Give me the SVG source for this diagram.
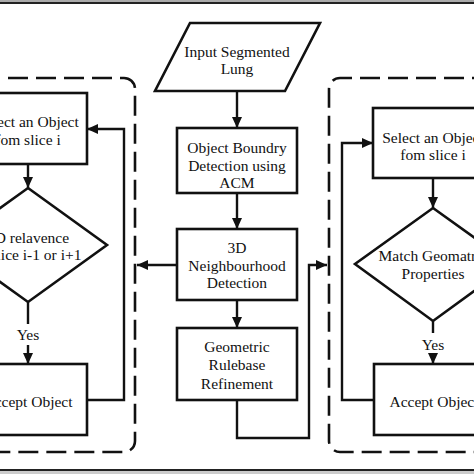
<svg xmlns="http://www.w3.org/2000/svg" width="474" height="474" viewBox="0 0 474 474">
<defs>
<marker id="ah" markerUnits="userSpaceOnUse" markerWidth="11" markerHeight="10" refX="11" refY="5" orient="auto">
<path d="M0,0 L11,5 L0,10 z" fill="#111"/>
</marker>
<style>
.b{fill:#fff;stroke:#111;stroke-width:2.6}
.c{fill:none;stroke:#111;stroke-width:2.4}
.d{fill:none;stroke:#111;stroke-width:2.6;stroke-dasharray:20 8}
text{font-family:"Liberation Serif","Times New Roman",serif;font-size:15.5px;fill:#111;text-anchor:middle}
</style>
</defs>
<rect x="0" y="0" width="474" height="474" fill="#fff"/>
<rect x="0" y="0" width="474" height="2" fill="#aaa"/>
<line x1="0" y1="3" x2="474" y2="3" stroke="#222" stroke-width="2"/>
<rect x="0" y="471" width="474" height="3" fill="#ccc"/>
<line x1="0" y1="470" x2="474" y2="470" stroke="#222" stroke-width="2"/>

<g id="left-group">
<path class="d" d="M -20 78 H 124 A 11 11 0 0 1 135 89 V 441 A 11 11 0 0 1 124 452 H -20"/>
</g>
<g id="right-group">
<path class="d" d="M 520 78 H 340 A 11 11 0 0 0 329 89 V 441 A 11 11 0 0 0 340 452 H 520"/>
</g>

<g id="connectors">
<line class="c" x1="237" y1="91" x2="237" y2="128" marker-end="url(#ah)"/>
<line class="c" x1="237" y1="193" x2="237" y2="229" marker-end="url(#ah)"/>
<line class="c" x1="237" y1="300" x2="237" y2="328" marker-end="url(#ah)"/>
<line class="c" x1="177" y1="265" x2="137" y2="265" marker-end="url(#ah)"/>
<path class="c" d="M 237 400 V 438 H 309 V 265 H 327" marker-end="url(#ah)"/>
<line class="c" x1="28" y1="164" x2="28" y2="188" marker-end="url(#ah)"/>
<line class="c" x1="28" y1="302" x2="28" y2="324"/>
<line class="c" x1="28" y1="345" x2="28" y2="364" marker-end="url(#ah)"/>
<path class="c" d="M 87 400 H 124 V 129 H 87" marker-end="url(#ah)"/>
<line class="c" x1="433" y1="178" x2="433" y2="208" marker-end="url(#ah)"/>
<line class="c" x1="433" y1="321" x2="433" y2="333"/>
<line class="c" x1="433" y1="354" x2="433" y2="364" marker-end="url(#ah)"/>
<path class="c" d="M 374 400 H 342 V 143 H 373" marker-end="url(#ah)"/>
</g>

<g id="input">
<polygon class="b" points="190,23 320,23 285,91 155,91"/>
<text x="237" y="57">Input Segmented</text>
<text x="237" y="74">Lung</text>
</g>
<g id="boundary">
<rect class="b" x="177" y="128" width="120" height="65"/>
<text x="237" y="153">Object Boundry</text>
<text x="237" y="171">Detection using</text>
<text x="237" y="188">ACM</text>
</g>
<g id="neighbourhood">
<rect class="b" x="177" y="229" width="120" height="71"/>
<text x="237" y="253">3D</text>
<text x="237" y="271">Neighbourhood</text>
<text x="237" y="288">Detection</text>
</g>
<g id="refinement">
<rect class="b" x="177" y="328" width="120" height="72"/>
<text x="237" y="352">Geometric</text>
<text x="237" y="370">Rulebase</text>
<text x="237" y="389">Refinement</text>
</g>

<g id="left-select">
<rect class="b" x="-31" y="93" width="118" height="71"/>
<text x="28" y="127">Select an Object</text>
<text x="28" y="145">fom slice i</text>
</g>
<g id="left-decision">
<polygon class="b" points="28,188 107,245 28,302 -51,245"/>
<text x="28" y="243">3D relavence</text>
<text x="28" y="260">in slice i-1 or i+1</text>
</g>
<g id="left-yes"><text x="28" y="340">Yes</text></g>
<g id="left-accept">
<rect class="b" x="-31" y="364" width="118" height="71"/>
<text x="28" y="407">Accept Object</text>
</g>

<g id="right-select">
<rect class="b" x="373" y="108" width="120" height="70"/>
<text x="433" y="143">Select an Object</text>
<text x="433" y="160">fom slice i</text>
</g>
<g id="right-decision">
<polygon class="b" points="433,208 511,264 433,321 355,264"/>
<text x="433" y="261">Match Geomatric</text>
<text x="433" y="279">Properties</text>
</g>
<g id="right-yes"><text x="433" y="350">Yes</text></g>
<g id="right-accept">
<rect class="b" x="374" y="364" width="120" height="71"/>
<text x="434" y="407">Accept Object</text>
</g>
</svg>
